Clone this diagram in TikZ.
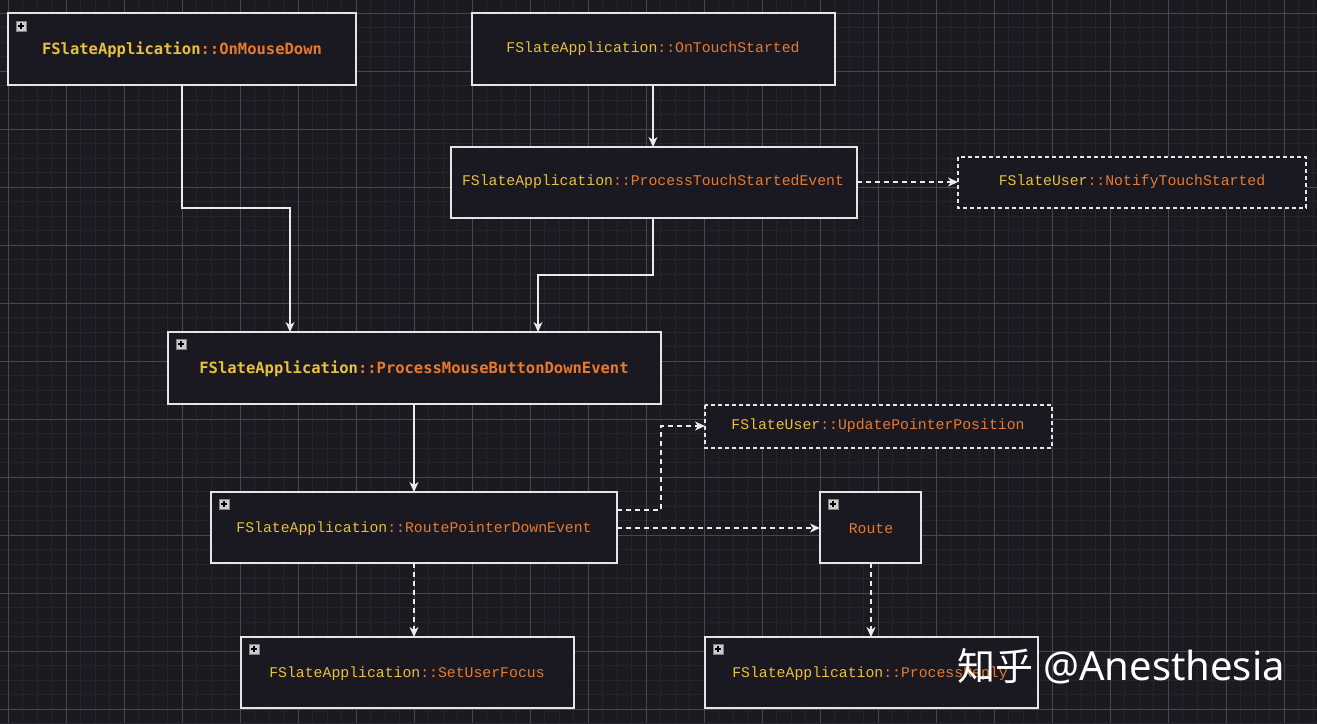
\documentclass[tikz,border=0pt]{standalone}
\usepackage{fontspec}
\setmonofont{DejaVu Sans Mono}
\newfontfamily\lmono{Liberation Mono}
\newfontfamily\cjk{Noto Sans CJK SC}
\usetikzlibrary{arrows.meta}
\definecolor{bg}{HTML}{1B1A20}
\definecolor{boxbg}{HTML}{1A1820}
\definecolor{yel}{HTML}{E8C040}
\definecolor{ora}{HTML}{E87A30}
\definecolor{gmin}{HTML}{26252D}
\definecolor{gmaj}{HTML}{48464F}
\tikzset{
  box/.style={draw=white!90!black, line width=1.2pt, fill=boxbg},
  dbox/.style={box, dash pattern=on 4pt off 3pt},
  lbl/.style={font=\lmono\fontsize{14.8}{16}\selectfont, inner sep=0},
  blbl/.style={font=\ttfamily\bfseries\fontsize{15.5}{17}\selectfont, inner sep=0},
  con/.style={draw=white!92!black, line width=1.2pt, -{Stealth[length=10pt,width=9pt,inset=3pt]}},
  dcon/.style={con, dash pattern=on 5pt off 4pt},
  plus/.style={draw=gray, fill=white!80!black, minimum size=10pt, inner sep=0,
    path picture={\draw[black, line width=1.3pt] ([xshift=-3pt]path picture bounding box.center) -- ([xshift=3pt]path picture bounding box.center);
      \draw[black, line width=1.3pt] ([yshift=-3pt]path picture bounding box.center) -- ([yshift=3pt]path picture bounding box.center);}}
}
\newcommand{\fn}[2]{\textcolor{yel}{#1}\textcolor{ora}{::#2}}
\begin{document}
\begin{tikzpicture}[x=1pt,y=-1pt]
\fill[bg] (0,0) rectangle (1317,723);
\useasboundingbox (0,0) rectangle (1317,723);
\foreach \x in {0,...,91} \draw[gmin, line width=0.5pt] ({8+14.5*(\x-1)},0) -- ++(0,723);
\foreach \y in {0,...,50} \draw[gmin, line width=0.5pt] (0,{13+14.5*(\y-1)}) -- ++(1317,0);
\foreach \x in {0,...,23} \draw[gmaj, line width=0.6pt] ({8+58*\x},0) -- ++(0,723);
\foreach \y in {0,...,13} \draw[gmaj, line width=0.6pt] (0,{13+58*\y}) -- ++(1317,0);
% boxes
\draw[box] (8,13) rectangle (356,85);
\node[plus] (pA) at (21,26) {};
\node[blbl] (tA) at (182,50) {\fn{FSlateApplication}{OnMouseDown}};
\draw[box] (472,13) rectangle (835,85);
\node[lbl] (tB) at (653,49) {\fn{FSlateApplication}{OnTouchStarted}};
\draw[box] (451,147) rectangle (857,218);
\node[lbl] (tC) at (653,182) {\fn{FSlateApplication}{ProcessTouchStartedEvent}};
\draw[dbox] (958,157) rectangle (1306,208);
\node[lbl] (tF) at (1132,182) {\fn{FSlateUser}{NotifyTouchStarted}};
\draw[box] (168,332) rectangle (661,404);
\node[plus] (pD) at (181,344) {};
\node[blbl] (tD) at (414,369) {\fn{FSlateApplication}{ProcessMouseButtonDownEvent}};
\draw[dbox] (705,405) rectangle (1052,448);
\node[lbl] (tU) at (878,426) {\fn{FSlateUser}{UpdatePointerPosition}};
\draw[box] (211,492) rectangle (617,563);
\node[plus] (pE) at (224,504) {};
\node[lbl] (tE) at (414,529) {\fn{FSlateApplication}{RoutePointerDownEvent}};
\draw[box] (820,492) rectangle (921,563);
\node[plus] (pR) at (833,504) {};
\node[lbl] (tR) at (871,529) {\textcolor{ora}{Route}};
\draw[box] (241,637) rectangle (574,708);
\node[plus] (pG) at (254,649) {};
\node[lbl] (tG) at (407,674) {\fn{FSlateApplication}{SetUserFocus}};
\draw[box] (705,637) rectangle (1038,708);
\node[plus] (pH) at (718,649) {};
\node[lbl] (tH) at (870,674) {\fn{FSlateApplication}{ProcessReply}};
% connectors
\draw[con] (182,85) -- (182,208) -- (290,208) -- (290,332);
\draw[con] (653,85) -- (653,147);
\draw[con] (653,218) -- (653,275) -- (538,275) -- (538,332);
\draw[dcon] (857,182) -- (958,182);
\draw[con] (414,404) -- (414,492);
\draw[dcon] (617,510) -- (661,510) -- (661,426) -- (705,426);
\draw[dcon] (617,528) -- (820,528);
\draw[dcon] (414,563) -- (414,637);
\draw[dcon] (871,563) -- (871,637);
% watermark
\node[text=white, anchor=west, inner sep=0] (wm) at (957,666) {{\cjk\fontsize{38}{40}\selectfont 知乎}\hspace{10pt}{\fontspec{Noto Sans}\fontsize{40}{42}\selectfont @Anesthesia}};
\end{tikzpicture}
\end{document}
